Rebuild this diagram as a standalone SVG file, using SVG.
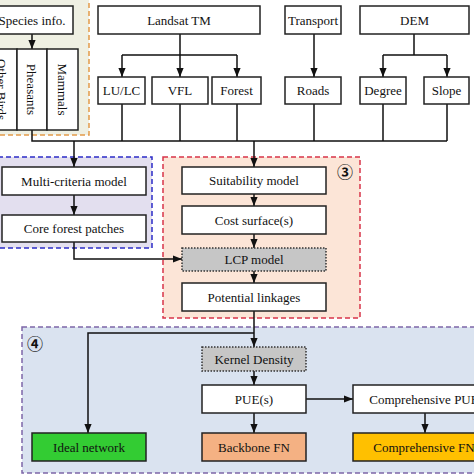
<svg xmlns="http://www.w3.org/2000/svg" width="474" height="474" viewBox="0 0 474 474">
<style>
.box{fill:#fff;stroke:#222;stroke-width:1.5}
.gray{fill:#c6c6c6;stroke:#333;stroke-width:1.5;stroke-dasharray:1.5,1.5}
.t{font-family:"Liberation Serif","Times New Roman",serif;font-size:13px;fill:#111;text-anchor:middle}
.ln{fill:none;stroke:#111;stroke-width:1.5}
.arr{fill:none;stroke:#111;stroke-width:1.5;marker-end:url(#ah)}
.num{font-family:"Noto Sans CJK SC","DejaVu Sans",sans-serif;font-size:16px;font-weight:bold;fill:#111;text-anchor:middle}
</style>
<defs>
<marker id="ah" viewBox="0 0 10 8" refX="10" refY="4" markerWidth="9" markerHeight="7.5" markerUnits="userSpaceOnUse" orient="auto">
<path d="M0,0 L10,4 L0,8 z" fill="#111"/>
</marker>
</defs>
<rect width="474" height="474" fill="#fff"/>

<g id="groups">
<rect id="g-species" x="-10" y="-10" width="99" height="145" fill="#eff0e3" stroke="#e39a4a" stroke-width="1.5" stroke-dasharray="5,3"/>
<rect id="g-core" x="-10" y="157" width="162" height="91" fill="#e3dfef" stroke="#2d2dc8" stroke-width="1.5" stroke-dasharray="5,3"/>
<rect id="g-lcp" x="163" y="157" width="197" height="161" fill="#fce5d7" stroke="#d8344a" stroke-width="1.5" stroke-dasharray="5,3"/>
<rect id="g-network" x="22" y="327" width="460" height="146" fill="#dae3f0" stroke="#7e67a8" stroke-width="1.5" stroke-dasharray="5,3"/>
<text class="num" x="345" y="178">③</text>
<text class="num" x="35" y="350">④</text>
</g>

<g id="connectors">
<path class="arr" d="M32,34 V49"/>
<path class="ln" d="M32,130 V141 H447"/>
<path class="ln" d="M180,34 V55 M122,55 H237"/>
<path class="arr" d="M122,55 V77"/>
<path class="arr" d="M180,55 V77"/>
<path class="arr" d="M237,55 V77"/>
<path class="arr" d="M314,34 V77"/>
<path class="ln" d="M414,34 V55 M383,55 H447"/>
<path class="arr" d="M383,55 V77"/>
<path class="arr" d="M447,55 V77"/>
<path class="ln" d="M122,104 V141 M180,104 V141 M237,104 V141 M314,104 V141 M383,104 V141 M447,104 V141"/>
<path class="arr" d="M74,141 V167"/>
<path class="arr" d="M254,141 V167"/>
<path class="arr" d="M74,195 V215"/>
<path class="arr" d="M74,242 V259 H182"/>
<path class="arr" d="M254,194 V206"/>
<path class="arr" d="M254,234 V248"/>
<path class="arr" d="M254,271 V283"/>
<path class="arr" d="M254,311 V347"/>
<path class="arr" d="M254,333 H88 V433"/>
<path class="arr" d="M254,371 V385"/>
<path class="arr" d="M254,413 V433"/>
<path class="arr" d="M306,399 H353"/>
<path class="arr" d="M425,413 V433"/>
</g>

<g id="n-species"><rect class="box" x="-8" y="6" width="81" height="28"/><text class="t" x="32" y="25">Species info.</text></g>
<g id="n-otherbirds"><rect class="box" x="-14" y="49" width="31" height="81"/><text class="t" transform="translate(1.5,89.5) rotate(90)" dy="0.35em">Other Birds</text></g>
<g id="n-pheasants"><rect class="box" x="17" y="49" width="30" height="81"/><text class="t" transform="translate(32,89.5) rotate(90)" dy="0.35em">Pheasants</text></g>
<g id="n-mammals"><rect class="box" x="47" y="49" width="31" height="81"/><text class="t" transform="translate(62.5,89.5) rotate(90)" dy="0.35em">Mammals</text></g>

<g id="n-landsat"><rect class="box" x="98" y="6" width="162" height="28"/><text class="t" x="179" y="25">Landsat TM</text></g>
<g id="n-transport"><rect class="box" x="285" y="6" width="56" height="28"/><text class="t" x="313" y="25">Transport</text></g>
<g id="n-dem"><rect class="box" x="360" y="6" width="109" height="28"/><text class="t" x="414.5" y="25">DEM</text></g>

<g id="n-lulc"><rect class="box" x="98" y="77" width="47" height="27"/><text class="t" x="121.5" y="95">LU/LC</text></g>
<g id="n-vfl"><rect class="box" x="152" y="77" width="56" height="27"/><text class="t" x="180" y="95">VFL</text></g>
<g id="n-forest"><rect class="box" x="212" y="77" width="49" height="27"/><text class="t" x="236.5" y="95">Forest</text></g>
<g id="n-roads"><rect class="box" x="285" y="77" width="56" height="27"/><text class="t" x="313" y="95">Roads</text></g>
<g id="n-degree"><rect class="box" x="360" y="77" width="46" height="27"/><text class="t" x="383" y="95">Degree</text></g>
<g id="n-slope"><rect class="box" x="424" y="77" width="45" height="27"/><text class="t" x="446.5" y="95">Slope</text></g>

<g id="n-multicriteria"><rect class="box" x="2" y="167" width="144" height="28"/><text class="t" x="74" y="185.5">Multi-criteria model</text></g>
<g id="n-coreforest"><rect class="box" x="2" y="215" width="144" height="27"/><text class="t" x="74" y="233">Core forest patches</text></g>

<g id="n-suitability"><rect class="box" x="182" y="167" width="144" height="27"/><text class="t" x="254" y="185">Suitability model</text></g>
<g id="n-cost"><rect class="box" x="182" y="206" width="144" height="28"/><text class="t" x="254" y="224.5">Cost surface(s)</text></g>
<g id="n-lcpmodel"><rect class="gray" x="182" y="248" width="144" height="23"/><text class="t" x="254" y="264">LCP model</text></g>
<g id="n-linkages"><rect class="box" x="182" y="283" width="144" height="28"/><text class="t" x="254" y="301.5">Potential linkages</text></g>

<g id="n-kernel"><rect class="gray" x="202" y="347" width="104" height="24"/><text class="t" x="254" y="363.5">Kernel Density</text></g>
<g id="n-pue"><rect class="box" x="202" y="385" width="104" height="28"/><text class="t" x="254" y="403.5">PUE(s)</text></g>
<g id="n-comppue"><rect class="box" x="353" y="385" width="144" height="28"/><text class="t" x="424" y="403.5">Comprehensive PUE</text></g>
<g id="n-ideal"><rect x="32" y="433" width="114" height="28" fill="#33cc33" stroke="#222" stroke-width="1.5"/><text class="t" x="89" y="451.5">Ideal network</text></g>
<g id="n-backbone"><rect x="202" y="433" width="104" height="28" fill="#f4b183" stroke="#222" stroke-width="1.5"/><text class="t" x="254" y="451.5">Backbone FN</text></g>
<g id="n-compfn"><rect x="353" y="433" width="144" height="28" fill="#ffc000" stroke="#222" stroke-width="1.5"/><text class="t" x="424" y="451.5">Comprehensive FN</text></g>
</svg>
